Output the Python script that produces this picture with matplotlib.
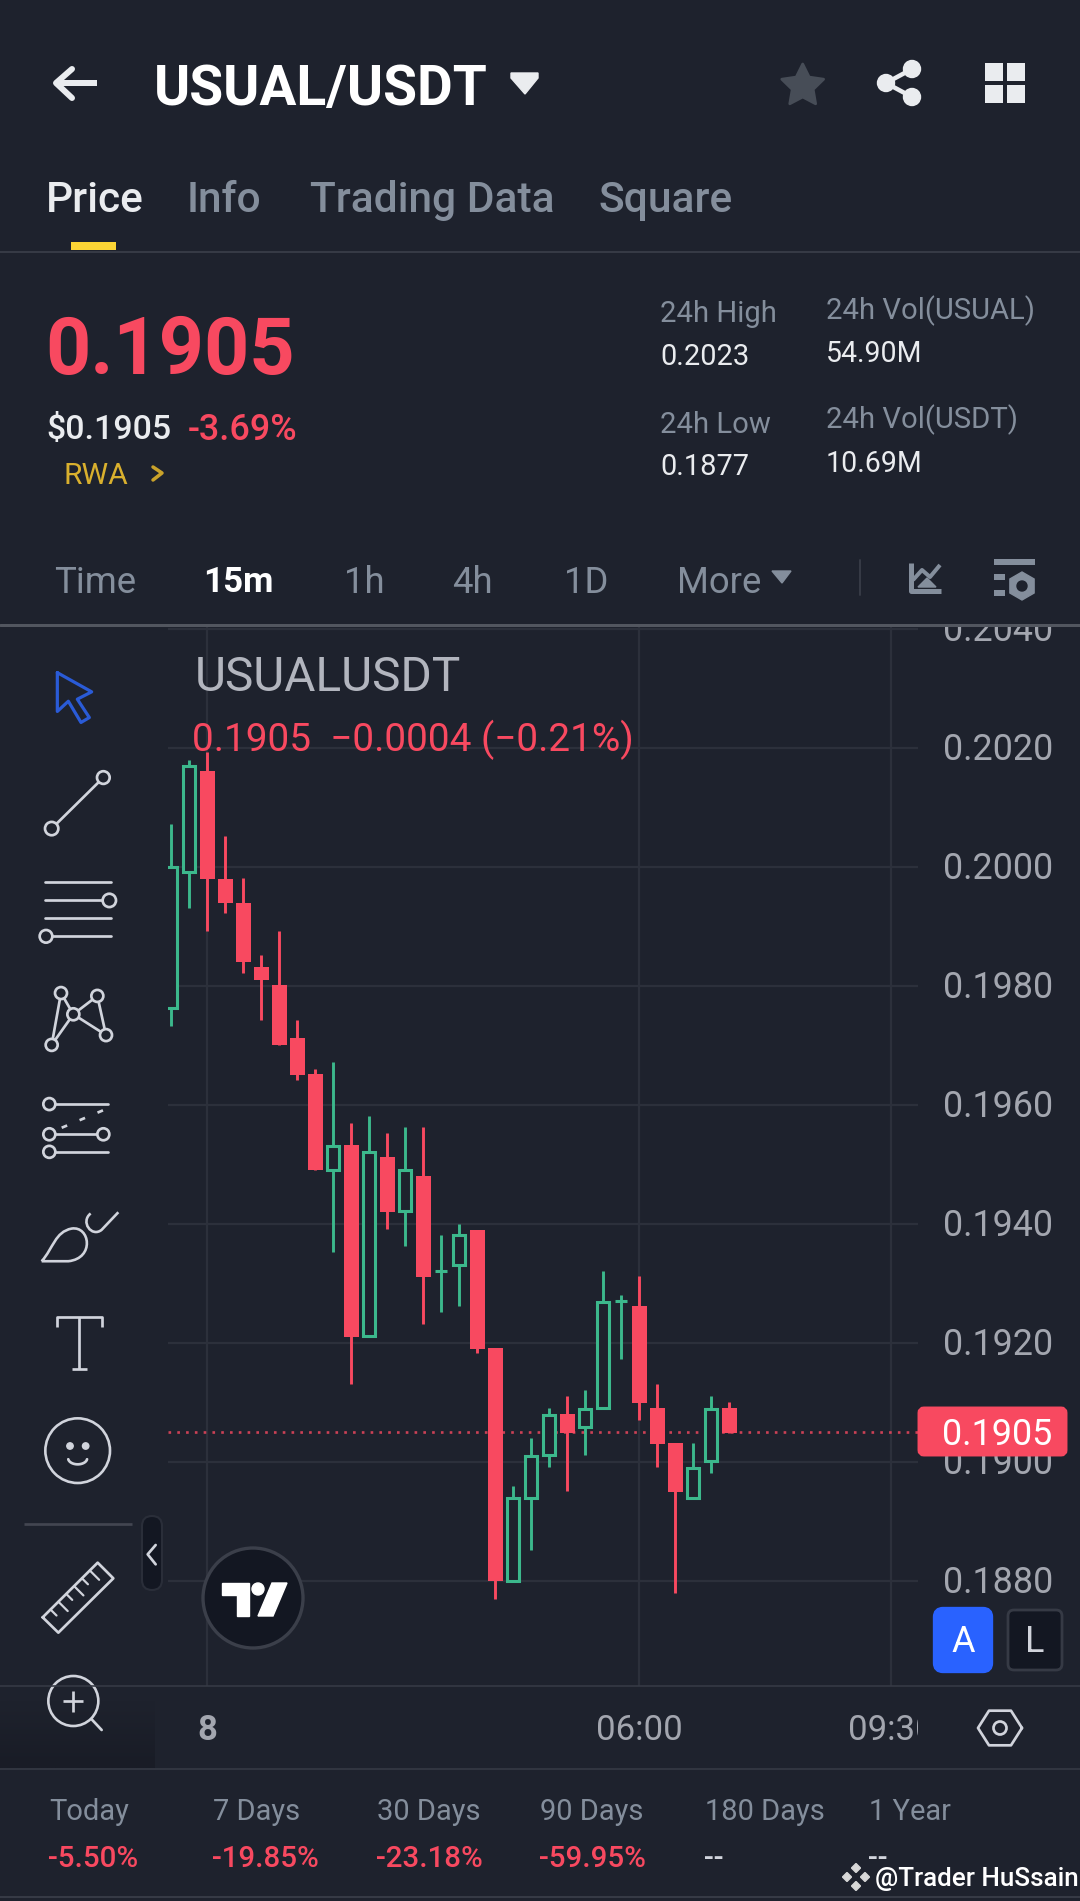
import numpy as np
import matplotlib
matplotlib.use('Agg')
import matplotlib.pyplot as plt
from matplotlib.patches import Rectangle, Circle, Polygon, FancyBboxPatch, PathPatch
from matplotlib.path import Path
from matplotlib.transforms import ScaledTranslation

plt.rcParams['font.family'] = ['Roboto', 'DejaVu Sans']

# candles
opens = [0.19762, 0.19991, 0.20161, 0.19980, 0.19940, 0.19831, 0.19801, 0.19712, 0.19652, 0.19491, 0.19532,
         0.19211, 0.19512, 0.19421, 0.19481, 0.19321, 0.19331, 0.19390, 0.19192, 0.18800, 0.18939, 0.19011,
         0.19080, 0.19059, 0.19090, 0.19270, 0.19261, 0.19090, 0.19031, 0.18939, 0.19001, 0.19090]
closes = [0.20000, 0.20169, 0.19980, 0.19939, 0.19840, 0.19810, 0.19700, 0.19650, 0.19490, 0.19530, 0.19210,
          0.19521, 0.19420, 0.19491, 0.19310, 0.19321, 0.19381, 0.19190, 0.18799, 0.18939, 0.19010, 0.19079,
          0.19048, 0.19089, 0.19269, 0.19270, 0.19099, 0.19030, 0.18949, 0.18990, 0.19089, 0.19049]
highs = [0.20072, 0.20180, 0.20193, 0.20052, 0.19981, 0.19852, 0.19892, 0.19742, 0.19661, 0.19672, 0.19570,
         0.19581, 0.19552, 0.19562, 0.19562, 0.19381, 0.19400, 0.19390, 0.19192, 0.18960, 0.19040, 0.19090,
         0.19111, 0.19120, 0.19321, 0.19280, 0.19312, 0.19130, 0.19031, 0.19031, 0.19111, 0.19101]
lows = [0.19732, 0.19931, 0.19892, 0.19923, 0.19821, 0.19742, 0.19700, 0.19641, 0.19490, 0.19352, 0.19131,
        0.19211, 0.19391, 0.19362, 0.19231, 0.19251, 0.19261, 0.19182, 0.18770, 0.18800, 0.18852, 0.18991,
        0.18951, 0.19011, 0.19090, 0.19172, 0.19070, 0.18991, 0.18780, 0.18939, 0.18981, 0.19049]
last_price = 0.1905
price_ticks = [0.2040, 0.2020, 0.2000, 0.1980, 0.1960, 0.1940, 0.1920, 0.1900, 0.1880]
time_ticks = [2, 26, 40]
time_labels = ['8', '06:00', '09:30']

periods = ['Today', '7 Days', '30 Days', '90 Days', '180 Days', '1 Year']
period_changes = ['-5.50%', '-19.85%', '-23.18%', '-59.95%', '--', '--']
intervals = ['Time', '15m', '1h', '4h', '1D', 'More']
tabs = ['Price', 'Info', 'Trading Data', 'Square']

BG = '#1e222d'
RED = '#f84960'
GREEN = '#3cb88c'
GRID = '#2c303b'
LINE = '#363a45'
GREY = '#848e9c'
TOOL = '#d1d4dc'
DARK = '#131722'
SOFT = '#eaecef'
W, H = 1080, 1901

fig = plt.figure(figsize=(W / 100, H / 100), dpi=100, facecolor=BG)

# chart axes, pixel box 168..918 x 626..1686
ax = fig.add_axes([168 / W, 1 - 1686 / H, 750 / W, 1060 / H], facecolor=BG, zorder=1)
ax.set_xlim(-0.183, 41.48)
ax.set_ylim(0.18623, 0.20405)
for s in ax.spines.values():
    s.set_visible(False)
ax.grid(True, color=GRID, lw=1.6)
ax.set_axisbelow(True)
ax.yaxis.tick_right()
ax.set_yticks(price_ticks)
ax.set_yticklabels(['%.4f' % p for p in price_ticks], color='#a3a6af', fontsize=25.8)
ax.set_xticks(time_ticks)
ax.set_xticklabels(time_labels, color='#a3a6af', fontsize=25)
ax.get_xticklabels()[0].set_fontweight('bold')
ax.tick_params(axis='y', length=0, pad=18)
ax.tick_params(axis='x', length=0, pad=20)
# labels sit a touch above their grid lines
for lab in ax.get_yticklabels():
    lab.set_transform(lab.get_transform() + ScaledTranslation(0, 2 / 100, fig.dpi_scale_trans))

o = np.array(opens)
c = np.array(closes)
x = np.arange(len(o))
up = c >= o
ax.vlines(x[up], np.array(lows)[up], np.array(highs)[up], color=GREEN, lw=2.1, zorder=3)
ax.vlines(x[~up], np.array(lows)[~up], np.array(highs)[~up], color=RED, lw=2.1, zorder=3)
ax.bar(x[~up], np.abs(c - o)[~up], bottom=np.minimum(o, c)[~up], width=0.81, color=RED, zorder=4)
ax.bar(x[up], np.abs(c - o)[up], bottom=o[up], width=0.68, facecolor=BG, edgecolor=GREEN, lw=2.2, zorder=4)
ax.axhline(last_price, color=RED, lw=1.9, ls=(0, (1, 2.33)), alpha=0.8, zorder=2)

# everything else sits on a pixel axes on top
ui = fig.add_axes([0, 0, 1, 1], facecolor='none', zorder=2)
ui.set_xlim(0, W)
ui.set_ylim(H, 0)
ui.axis('off')


def txt(px, py, s, size, color='white', weight='normal', ha='left', **kw):
    # py is the middle of the capitals
    return ui.text(px, py + 0.355 * size, s, fontsize=size * 0.72, color=color, fontweight=weight,
                   ha=ha, va='baseline', **kw)


def line(xs, ys, color=TOOL, w=2.7, **kw):
    ui.plot(xs, ys, color=color, lw=w * 0.72, solid_capstyle=kw.pop('cap', 'round'), **kw)


def rect(x0, y0, x1, y1, color=BG, **kw):
    ui.add_patch(Rectangle((x0, y0), x1 - x0, y1 - y0, facecolor=color, edgecolor='none', **kw))


def ring(cx, cy, r, color=TOOL, w=2.7, fill=BG):
    ui.add_patch(Circle((cx, cy), r, facecolor=fill, edgecolor=color, lw=w * 0.72, zorder=3))


def zline(pts, oy, ys=3.0, **kw):
    line([p[0] / 3 for p in pts], [oy + p[1] / ys for p in pts], **kw)


# the crop of the upper tool bar came back squeezed, 2.45 to the pixel in y
Y3 = 2.45


def zring(cx, cy, oy, r=17, ys=3.0):
    ring(cx / 3, oy + cy / ys, r / 3)


# covers for what is cut off at the pane edges
rect(0, 0, W, 624)
rect(918, 1688, W, 1768)

# header
line([57, 97], [83, 83], w=6, color=SOFT, cap='butt')
line([72, 56, 72], [69, 83, 98], w=6, color=SOFT)
txt(154, 85, 'USUAL/USDT', 55, weight='bold')
ui.add_patch(Polygon([(511, 73), (538, 73), (538, 78), (525, 94), (511, 78)], color=SOFT))
ang = np.deg2rad(np.arange(10) * 36 - 90)
rad = np.where(np.arange(10) % 2 == 0, 22, 11)
ui.add_patch(Polygon(np.c_[802.7 + rad * np.cos(ang), 86 + rad * np.sin(ang)], facecolor='#474d57',
                     edgecolor='#474d57', lw=2, joinstyle='round'))
line([912, 886, 912], [69, 83, 97], color=SOFT, w=4.5)
for cy, cx in [(69, 912), (83, 886), (97, 912)]:
    ui.add_patch(Circle((cx, cy), 8.5, color=SOFT))
for gx, gy in [(985, 63), (1007, 63), (985, 85), (1007, 85)]:
    rect(gx, gy, gx + 18, gy + 18, color=SOFT)

for label, tx in zip(tabs, [46, 187, 310, 598]):
    txt(tx, 197, label, 42.5, color=SOFT if label == 'Price' else GREY, weight='medium')
rect(71, 242, 116, 250, color='#fcd535')
line([0, W], [252, 252], color=LINE, w=2)

txt(45, 346, '0.1905', 79, color=RED, weight='bold')
txt(46, 427, '$0.1905', 34, color=SOFT, weight='medium')
txt(188, 427, '-3.69%', 36, color=RED, weight='medium')
txt(64, 473, 'RWA', 30, color='#d9b02e')
line([153, 162, 153], [467, 473, 480], color='#c9a22a', w=3.5)

txt(660, 312, '24h High', 29.3, color=GREY)
txt(660, 355, '0.2023', 29, color=SOFT)
txt(660, 423, '24h Low', 29.3, color=GREY)
txt(660, 465, '0.1877', 29, color=SOFT)
txt(826, 309, '24h Vol(USUAL)', 29.2, color=GREY)
txt(826, 352, '54.90M', 28.5, color=SOFT)
txt(826, 418, '24h Vol(USDT)', 29.2, color=GREY)
txt(826, 462, '10.69M', 28.5, color=SOFT)

for label, tx in zip(intervals, [54, 203, 344, 452, 564, 677]):
    active = label == '15m'
    size = 35 if active else 36.5
    txt(tx, 580, label, size, color='white' if active else GREY, weight='bold' if active else 'normal')
ui.add_patch(Polygon([(772, 571), (791, 571), (782, 583)], color=GREY))
line([860, 860], [560, 595], color=LINE, w=2)
# indicator icon
line([911, 911, 941], [563, 591, 591], color=GREY, w=5, cap='butt')
line([913, 922, 930, 940], [580, 570, 577, 565], color=GREY, w=4, cap='butt')
ui.add_patch(Polygon([(918, 587), (936, 587), (927, 578)], color=GREY))
# settings icon
line([994, 1035], [562, 562], color=GREY, w=6, cap='butt')
line([994, 1005], [577, 577], color=GREY, w=6, cap='butt')
line([994, 1005], [593, 593], color=GREY, w=6, cap='butt')
hexa = np.deg2rad(np.arange(6) * 60 + 30)
ui.add_patch(Polygon(np.c_[1022 + 14 * np.cos(hexa), 586 + 14 * np.sin(hexa)], color=GREY))
ui.add_patch(Circle((1022, 586), 5, color=BG))
line([0, W], [625, 625], color='#52565f', w=3)

# chart overlays
txt(195, 674, 'USUALUSDT', 47.8, color='#b2b5be')
txt(192, 737, '0.1905  \u22120.0004 (\u22120.21%)', 38.8, color=RED)
line([0, W], [1686, 1686], color=LINE, w=1.6)

ui.add_patch(FancyBboxPatch((921, 1410), 143, 43, boxstyle='round,pad=0,rounding_size=3', facecolor=RED,
                            edgecolor=RED, lw=5))
txt(997, 1432, '0.1905', 36, ha='center')

ui.add_patch(FancyBboxPatch((937, 1611), 52, 58, boxstyle='round,pad=0,rounding_size=6', facecolor='#2962ff',
                            edgecolor='#2962ff', lw=6))
txt(963, 1639, 'A', 36, ha='center')
ui.add_patch(FancyBboxPatch((1008, 1610), 54, 60, boxstyle='round,pad=0,rounding_size=6', facecolor=DARK,
                            edgecolor='#363a45', lw=2))
txt(1035, 1639, 'L', 36, color=TOOL, ha='center')

# time axis leftovers
hexa = np.deg2rad(np.arange(7) * 60)
line(1000 + 22 * np.cos(hexa), 1728 + 20 * np.sin(hexa), color=TOOL, w=2.7)
ring(1000, 1728, 6.5)

# left tool bar
zp = [(172, 80), (275, 127), (232, 145), (268, 190), (243, 202), (205, 150), (172, 175), (172, 80)]
zline(zp, 640, ys=Y3, color='#2a5bd7', w=3.2)
zline([(155, 462), (310, 337)], 640, ys=Y3)
zring(155, 462, 640, 20, ys=Y3)
zring(310, 337, 640, 19, ys=Y3)
for zy in (593, 638, 682, 726):
    zline([(135, zy), (332, zy)], 640, ys=Y3)
zring(328, 638, 640, 20, ys=Y3)
zring(138, 726, 640, 19, ys=Y3)
pts = [(183, 865), (220, 917), (292, 872), (318, 968), (220, 917), (155, 992), (183, 865)]
zline(pts, 640, ys=Y3)
for p in pts[:4] + [pts[5]]:
    zring(p[0], p[1], 640, 18, ys=Y3)
zline([(148, 1137), (325, 1137)], 640, ys=Y3)
zline([(148, 1211), (310, 1211)], 640, ys=Y3)
zline([(148, 1254), (325, 1254)], 640, ys=Y3)
zline([(185, 1195), (310, 1152)], 640, ys=Y3, ls=(0, (2.2, 5)), w=2.7)
for zx, zy in [(148, 1137), (148, 1211), (310, 1211), (148, 1254)]:
    zring(zx, zy, 640, 18, ys=Y3)
leaf = [(125, 1522), (160, 1490), (165, 1450), (215, 1442), (270, 1435), (285, 1515), (205, 1522), (125, 1522)]
codes = [Path.MOVETO] + [Path.CURVE4] * 6 + [Path.LINETO]
ui.add_patch(PathPatch(Path([(p[0] / 3, 640 + p[1] / Y3) for p in leaf], codes), facecolor='none', edgecolor=TOOL,
                       lw=1.9))
hook = [(272, 1405), (240, 1425), (275, 1465), (305, 1445), (355, 1402)]
hcodes = [Path.MOVETO, Path.CURVE4, Path.CURVE4, Path.CURVE4, Path.LINETO]
ui.add_patch(PathPatch(Path([(p[0] / 3, 640 + p[1] / Y3) for p in hook], hcodes), facecolor='none', edgecolor=TOOL,
                       lw=1.9))

zline([(172, 142), (172, 110), (305, 110), (305, 142)], 1280, cap='butt')
zline([(238, 110), (238, 267)], 1280, cap='butt')
zline([(217, 267), (260, 267)], 1280, cap='butt')
ui.add_patch(Circle((233 / 3, 1280 + 512 / 3), 97 / 3, facecolor='none', edgecolor=TOOL, lw=1.9))
ui.add_patch(Circle((210 / 3, 1280 + 498 / 3), 3.2, color=TOOL))
ui.add_patch(Circle((257 / 3, 1280 + 498 / 3), 3.2, color=TOOL))
th = np.linspace(0.15, np.pi - 0.15, 20)
line(233 / 3 + 9.5 * np.cos(th), 1280 + 535 / 3 + 6 * np.sin(th), w=2.7)
zline([(72, 733), (395, 733)], 1280, color='#434651', cap='butt')
ui.add_patch(FancyBboxPatch((142, 1516), 20, 74, boxstyle='round,pad=0,rounding_size=10', facecolor=DARK,
                            edgecolor='#2a2e39', lw=1.5))
zline([(467, 795), (443, 823), (467, 853)], 1280)
ruler = [(128, 1012), (293, 848), (340, 895), (175, 1058), (128, 1012)]
zline(ruler, 1280)
for k in range(1, 7):
    tx = 128 + 165 * k / 7
    ty = 1012 - 164 * k / 7
    d = 28 if k % 2 == 0 else 18
    zline([(tx, ty), (tx + d, ty + d)], 1280, w=2.2)
ui.add_patch(Circle((220 / 3, 1280 + 1263 / 3), 75 / 3, facecolor='none', edgecolor=TOOL, lw=1.9))
zline([(190, 1263), (250, 1263)], 1280, cap='butt')
zline([(220, 1233), (220, 1295)], 1280, cap='butt')
zline([(275, 1318), (305, 1350)], 1280)

# darker fade at the foot of the tool bar
ui.imshow(np.linspace(0, 1, 32)[:, None], extent=(0, 155, 1768, 1700), aspect='auto', zorder=0.5,
          cmap=matplotlib.colors.LinearSegmentedColormap.from_list('f', [BG, '#191c26']))
ui.set_xlim(0, W)
ui.set_ylim(H, 0)

# TradingView badge
ui.add_patch(Circle((253, 1598), 50, facecolor=DARK, edgecolor='#3b3f4a', lw=2.4))
ui.add_patch(Polygon([(222, 1583), (249, 1583), (249, 1616), (237, 1616), (237, 1595), (222, 1595)], color='white'))
ui.add_patch(Circle((258, 1589), 6, color='white'))
ui.add_patch(Polygon([(272, 1583), (287, 1583), (273, 1616), (258, 1616)], color='white'))

# period strip
line([0, W], [1769, 1769], color=LINE, w=1.6)
for label, change, tx in zip(periods, period_changes, [49, 213, 377, 540, 705, 869]):
    txt(tx, 1810, label, 29, color=GREY)
    txt(tx - 1, 1857, change, 29.5, color=RED if change != '--' else TOOL, weight='medium')
line([0, W], [1897, 1897], color=LINE, w=2)

# watermark
for dx, dy in [(0, -9), (-9, 0), (9, 0), (0, 9)]:
    ui.add_patch(Polygon([(856 + dx, 1877 + dy - 4.5), (856 + dx + 4.5, 1877 + dy), (856 + dx, 1877 + dy + 4.5),
                          (856 + dx - 4.5, 1877 + dy)], color='#d8d8d8'))
txt(875, 1877, '@Trader HuSsain', 26, color='white', weight='medium')

fig.savefig('out.png', dpi=100, facecolor=BG)
